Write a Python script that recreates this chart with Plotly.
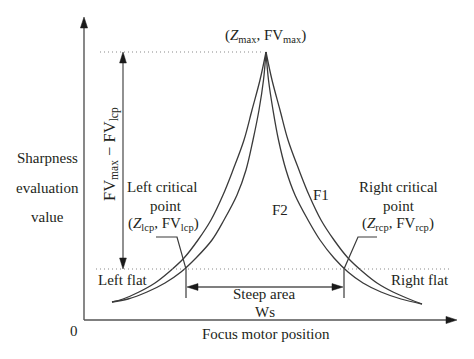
import plotly.graph_objects as go

# ---- data (chart units: origin at the axes corner, 1 unit = 1 px) ----
f1_left_x = [28, 39, 55, 71, 85, 100, 114, 127, 139, 149, 160, 168, 176, 182]
f1_left_y = [18, 21, 28, 37, 48, 62, 80, 100, 125, 150, 180, 210, 240, 268]
f1_right_x = [182, 188, 196, 204, 215, 225, 237, 250, 264, 279, 293, 309, 325, 338]
f1_right_y = [268, 240, 210, 180, 150, 125, 100, 80, 62, 48, 37, 28, 21, 16]

f2_left_x = [28, 44, 63, 81, 97, 112, 128, 140, 153, 162, 169, 175, 179.5, 182]
f2_left_y = [18, 21, 28, 37, 48, 62, 80, 100, 125, 150, 180, 210, 240, 268]
f2_right_x = [182, 184.5, 189, 194.5, 202, 211, 224, 236, 250, 264, 279, 297, 317, 338]
f2_right_y = [268, 240, 210, 180, 150, 125, 100, 80, 62, 48, 37, 28, 21, 16]

# key levels / positions
Z_MAX = 182
FV_MAX = 268
FV_LCP = 51
Z_LCP = 102
Z_RCP = 260
X_END = 373
Y_END = 303
STEEP_Y = 33

FONT = "Liberation Serif"
TXT = "#231f20"
LINE = "#3a3a3a"

fig = go.Figure()

for xs, ys in [(f1_left_x, f1_left_y), (f1_right_x, f1_right_y),
               (f2_left_x, f2_left_y), (f2_right_x, f2_right_y)]:
    fig.add_trace(go.Scatter(x=xs, y=ys, mode="lines",
                             line=dict(color=LINE, width=1.3, shape="spline", smoothing=1),
                             hoverinfo="skip", showlegend=False))

shapes = []

def line(x0, y0, x1, y1, color=LINE, width=1.3, dash=None):
    d = dict(type="line", x0=x0, y0=y0, x1=x1, y1=y1, layer="above",
             line=dict(color=color, width=width))
    if dash:
        d["line"]["dash"] = dash
    shapes.append(d)

def head(tx, ty, dx, dy, L=11, W=3.6, color="#1a1a1a"):
    bx, by = tx - L * dx, ty - L * dy
    px, py = -dy, dx
    p = (f"M{tx},{ty} L{bx + W * px},{by + W * py} "
         f"L{bx - W * px},{by - W * py} Z")
    shapes.append(dict(type="path", path=p, fillcolor=color, layer="above",
                       line=dict(color=color, width=0.5)))

def polyline(pts, color=LINE, width=1.2):
    p = "M" + " L".join(f"{x},{y}" for x, y in pts)
    shapes.append(dict(type="path", path=p, layer="above",
                       line=dict(color=color, width=width)))

# axes
line(0, 0, 0, Y_END - 8, color="#555555", width=1.4)
head(0, Y_END, 0, 1)
line(0, 0, X_END - 8, 0, color="#555555", width=1.4)
head(X_END, 0, 1, 0)

# dotted reference lines
line(16, FV_MAX, Z_MAX - 4, FV_MAX, color="#8a8a8a", width=1.2, dash="1px,3px")
line(12, FV_LCP, 366, FV_LCP, color="#8a8a8a", width=1.2, dash="1px,3px")

# FVmax - FVlcp double arrow
line(39, FV_LCP + 8, 39, FV_MAX - 8, color="#555555", width=1.3)
head(39, FV_MAX, 0, 1, L=11, W=3.4)
head(39, FV_LCP, 0, -1, L=11, W=3.4)

# leaders to critical points
polyline([(72, 83), (93, 83), (Z_LCP, FV_LCP), (Z_LCP, 22)])
polyline([(293, 83), (274, 83), (Z_RCP, FV_LCP), (Z_RCP, 22)])

# steep area arrow
line(Z_LCP + 8, STEEP_Y, Z_RCP - 8, STEEP_Y, color="#555555", width=1.3)
head(Z_LCP + 1, STEEP_Y, -1, 0, L=11, W=3.4)
head(Z_RCP - 1, STEEP_Y, 1, 0, L=11, W=3.4)

ann = []

def text(x, y, s, size=15, angle=0, xanchor="center"):
    ann.append(dict(x=x, y=y, text=s, showarrow=False, textangle=angle,
                    xanchor=xanchor, yanchor="middle",
                    font=dict(family=FONT, size=size, color=TXT)))

text(-37, 162, "Sharpness")
text(-37, 132, "evaluation")
text(-37, 103, "value")
text(-10, -11, "0")
text(182, -14, "Focus motor position")
text(181, 284, "(<i>Z</i><sub>max</sub>, FV<sub>max</sub>)")
text(26, 166, "FV<sub>max</sub> − FV<sub>lcp</sub>", size=16.5, angle=-90)
text(78, 133, "Left critical")
text(82, 114, "point")
text(79, 96, "(<i>Z</i><sub>lcp</sub>, FV<sub>lcp</sub>)")
text(314, 133, "Right critical")
text(315, 114, "point")
text(314, 96, "(<i>Z</i><sub>rcp</sub>, FV<sub>rcp</sub>)")
text(237, 125, "F1")
text(196, 110, "F2")
text(39, 40, "Left flat")
text(336, 40, "Right flat")
text(180, 26, "Steep area")
text(181, 8, "Ws")

# page body has an 8px margin: the figure covers the window area from (8, 8)
fig.update_layout(
    width=466, height=351,
    margin=dict(l=0, r=0, t=0, b=0),
    paper_bgcolor="white", plot_bgcolor="white",
    xaxis=dict(range=[-76, 390], visible=False, fixedrange=True),
    yaxis=dict(range=[-39, 312], visible=False, fixedrange=True),
    shapes=shapes, annotations=ann, showlegend=False,
)

fig.write_html("out.html")
